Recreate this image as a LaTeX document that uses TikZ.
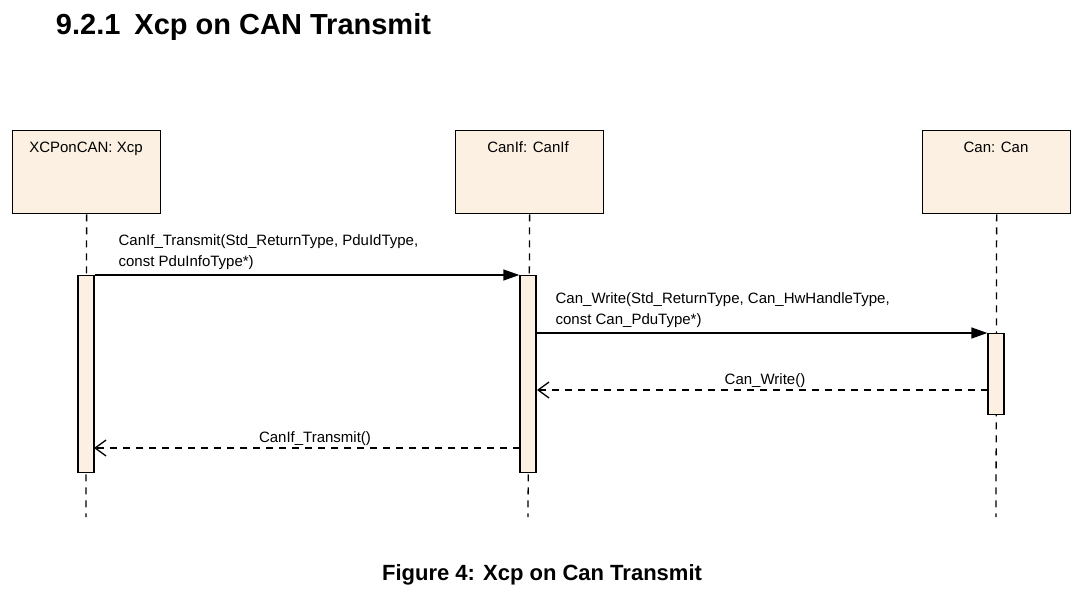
\documentclass[tikz,border=0pt]{standalone}
\usepackage{fontspec}
\setmainfont{Liberation Sans}
\usetikzlibrary{arrows.meta}
\definecolor{beige}{HTML}{FCF0E2}
\begin{document}
\begin{tikzpicture}[x=1pt,y=-1pt,line width=1.3pt,
  obj/.style={draw,fill=beige,minimum width=148pt,minimum height=83pt,anchor=north west,inner sep=0pt},
  objlbl/.style={font=\fontsize{15}{17}\selectfont,anchor=north},
  life/.style={dashed,dash pattern=on 7pt off 6pt},
  act/.style={draw,fill=beige,minimum width=16pt,anchor=north,inner sep=0pt},
  call/.style={-{Triangle[length=16pt,width=11pt]}},
  ret/.style={dashed,dash pattern=on 7pt off 6pt,-{Straight Barb[length=11pt,width=16pt]}},
  msg/.style={font=\fontsize{15}{21}\selectfont,align=left,anchor=south west,inner sep=0pt},
  rmsg/.style={font=\fontsize{15}{17}\selectfont,anchor=south,inner sep=1pt}]
\useasboundingbox (0,0) rectangle (1080,592);
\node[anchor=west,font=\fontsize{29}{33}\selectfont\bfseries] (title) at (52,27) {9.2.1\hspace{14pt}Xcp on CAN Transmit};
\node[obj] (xcp) at (12,130) {};
\node[obj] (canif) at (455,130) {};
\node[obj] (can) at (922,130) {};
\node[objlbl] at (86,138) {XCPonCAN: Xcp};
\node[objlbl] at (528,138) {CanIf: CanIf};
\node[objlbl] at (996,138) {Can: Can};
\coordinate (xe) at (86,517);
\coordinate (ie) at (528,517);
\coordinate (ce) at (996,517);
\draw[life] (xcp.south) -- (xe);
\draw[life] (canif.south) -- (ie);
\draw[life] (can.south) -- (ce);
\node[act,minimum height=197pt] (ax) at (86,275) {};
\node[act,minimum height=197pt] (ai) at (528,275) {};
\node[act,minimum height=81pt] (ac) at (996,333) {};
\draw[call] (ax.north east) -- (ai.north west);
\node[msg] at (118,270) {CanIf\_Transmit(Std\_ReturnType, PduIdType,\\const PduInfoType*)};
\coordinate (c1) at (537,333);
\draw[call] (c1) -- (ac.north west);
\node[msg] at (555,328) {Can\_Write(Std\_ReturnType, Can\_HwHandleType,\\const Can\_PduType*)};
\coordinate (r1s) at (988,390);
\coordinate (r1e) at (537,390);
\draw[ret] (r1s) -- (r1e);
\node[rmsg] at (765,389) {Can\_Write()};
\coordinate (r2s) at (520,448);
\coordinate (r2e) at (94,448);
\draw[ret] (r2s) -- (r2e);
\node[rmsg] at (315,447) {CanIf\_Transmit()};
\node[font=\fontsize{22}{26}\selectfont\bfseries] (cap) at (542,575) {Figure 4: Xcp on Can Transmit};
\end{tikzpicture}
\end{document}
